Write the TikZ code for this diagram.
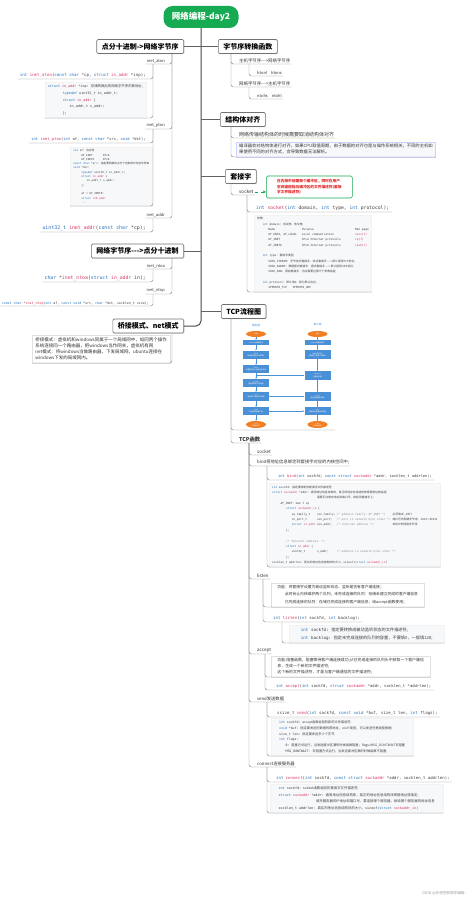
\documentclass[tikz,border=0pt]{standalone}
\usepackage{fontspec}
\setmainfont{Noto Sans CJK SC}[Ligatures=TeXOff]
\setmonofont{DejaVu Sans Mono}
\usetikzlibrary{positioning,shadows,arrows.meta,shapes.geometric}

\definecolor{mindgreen}{RGB}{22,170,82}
\definecolor{codebg}{RGB}{246,248,250}
\definecolor{kwblue}{RGB}{38,112,184}
\definecolor{fnred}{RGB}{214,58,100}
\definecolor{cmgray}{RGB}{140,140,140}
\definecolor{flowblue}{RGB}{74,144,214}
\definecolor{floworange}{RGB}{240,128,40}
\definecolor{notered}{RGB}{226,36,36}
\def\kw#1{\textcolor{kwblue}{#1}}
\def\fn#1{\textcolor{fnred}{#1}}
\def\cm#1{\textcolor{cmgray}{#1}}
\def\zh#1{{\rmfamily #1}}
\def\fsize#1#2{\fontsize{#1}{#2}\selectfont}

\tikzset{
  root/.style={fill=mindgreen, rounded corners=9pt, text=white, font=\bfseries\fsize{8.5}{9},
    minimum width=75pt, minimum height=22pt},
  topic/.style={draw=black!55, fill=white, rounded corners=1.2pt, line width=0.6pt,
    font=\bfseries\fsize{7}{8}, inner xsep=5pt, minimum height=14pt,
    drop shadow={opacity=0.3, shadow xshift=0.7pt, shadow yshift=-0.7pt}},
  trunkline/.style={draw=black!72, line width=1pt},
  branchline/.style={draw=black!62, line width=0.7pt},
  twig/.style={draw=black!45, line width=0.45pt, rounded corners=2.5pt},
  leaf/.style={inner sep=1pt, text=black!80, font=\fsize{4.3}{5}},
  codeline/.style={inner xsep=2pt, inner ysep=1pt, text=black!75},
  codebox/.style={fill=codebg, draw=black!5, align=left, inner xsep=3pt, inner ysep=2.5pt, text=black!75},
  textbox/.style={fill=white, draw=black!12, align=left, inner xsep=3pt, inner ysep=2.5pt, text=black!80,
    drop shadow={opacity=0.15, shadow xshift=0.6pt, shadow yshift=-0.6pt}},
  notebox/.style={draw=mindgreen, line width=0.6pt, rounded corners=1.5pt, fill=white, text=notered,
    font=\bfseries\fsize{3.7}{5.5}, align=left, minimum width=86pt, minimum height=22pt, inner xsep=4pt},
  flowbox/.style={fill=flowblue, text=white, font=\fsize{1.7}{2.1}, align=center, minimum width=26pt, inner sep=0.3pt},
  flowend/.style={ellipse, fill=floworange, text=white, font=\fsize{1.7}{2.1}, align=center,
    minimum width=20pt, inner sep=0.2pt},
  flowarrow/.style={draw=flowblue, line width=0.3pt, -{Stealth[length=1.4pt,width=1.3pt]}},
}

\begin{document}
\begin{tikzpicture}[x=1pt,y=-1pt]
  \fill[white] (0,0) rectangle (474,899);
  \useasboundingbox (0,0) rectangle (474,899);

  % root and main topics
  \node[root] (root) at (201,17) {网络编程-day2};
  \node[topic, anchor=east] (dot2net) at (184,46.5) {点分十进制->网络字节序};
  \node[topic, anchor=west] (conv) at (218,46.5) {字节序转换函数};
  \node[topic, anchor=west] (align) at (220,119.5) {结构体对齐};
  \node[topic, anchor=west] (sock) at (225,176.5) {套接字};
  \node[topic, anchor=east] (net2dot) at (184,251) {网络字节序--->点分十进制};
  \node[topic, anchor=west] (tcpflow) at (221,311.5) {TCP流程图};
  \node[topic, anchor=east] (bridge) at (184,326) {桥接模式、net模式};

  \draw[trunkline, rounded corners=5pt] (root.south) |- (bridge.east);
  \draw[branchline] (dot2net.east) -- (conv.west);
  \draw[branchline] (root.south |- align.west) -- (align.west);
  \draw[branchline] (root.south |- sock.west) -- (sock.west);
  \draw[branchline] (root.south |- net2dot.east) -- (net2dot.east);
  \draw[branchline] (root.south |- tcpflow.west) -- (tcpflow.west);

  % left: dotted decimal -> network order
  \node[leaf, anchor=south east, font=\fsize{4}{5}] (aton) at (166,64) {inet\_aton};
  \node[codeline, anchor=south east, font=\ttfamily\fsize{4.1}{5}] (atonsig) at (148,79)
    {\kw{int} \fn{inet\_aton}(\kw{const char} *cp, \kw{struct} \fn{in\_addr} *inp);};
  \node[codebox, anchor=south east, font=\ttfamily\fsize{3.4}{6.8}] (atonbox) at (146,118)
    {\kw{struct} \fn{in\_addr} *inp: \zh{存储转换后的网络字节序的首地址;}\\
     \hspace*{4.4em}\kw{typedef} uint32\_t in\_addr\_t;\\
     \hspace*{4.4em}\kw{struct} \fn{in\_addr} \{\\
     \hspace*{6.4em}in\_addr\_t s\_addr;\\
     \hspace*{4.4em}\};};
  \node[leaf, anchor=south east, font=\fsize{4}{5}] (pton) at (166,129) {inet\_pton};
  \node[codeline, anchor=south east, font=\ttfamily\fsize{3.8}{5}] (ptonsig) at (148,143)
    {\kw{int} \fn{inet\_pton}(\kw{int} af, \kw{const char} *src, \kw{void} *dst);};
  \node[codebox, anchor=south east, font=\ttfamily\fsize{2.7}{4.3}] (ptonbox) at (152.5,206)
    {\kw{int} af: \zh{协议族}\\
     \hspace*{3em}\makebox[8em][l]{AF\_INET}IPv4\\
     \hspace*{3em}\makebox[8em][l]{AF\_INET6}IPv6\\
     \kw{const char} *src: \zh{指定要转换的点分十进制的IP地址字符串}\\
     \kw{void} *dst:\\
     \hspace*{3em}\kw{typedef} uint32\_t in\_addr\_t;\\
     \hspace*{3em}\kw{struct} \fn{in\_addr} \{\\
     \hspace*{5em}in\_addr\_t s\_addr;\\
     \hspace*{3em}\};\\
     \mbox{}\\
     \hspace*{3em}af = AF\_INET6:\\
     \hspace*{3em}\kw{struct} \fn{in6\_addr}\\
     \hspace*{3em}...};
  \node[leaf, anchor=south east, font=\fsize{4}{5}] (addr) at (166,218) {inet\_addr};
  \node[codeline, anchor=south east, font=\ttfamily\fsize{4.9}{6}] (addrsig) at (148,232)
    {\kw{uint32\_t} \fn{inet\_addr}(\kw{const char} *cp);};

  \draw[twig] ([xshift=-12pt]dot2net.south east) |- (addr.south west);
  \foreach \ch in {aton,pton}
    \draw[twig] ([xshift=-12pt]dot2net.south east) |- (\ch.south west);

  % left: network order -> dotted decimal
  \node[leaf, anchor=south east, font=\fsize{4}{5}] (ntoa) at (166,269) {inet\_ntoa};
  \node[codeline, anchor=south east, font=\ttfamily\fsize{4.8}{6}] (ntoasig) at (148,282)
    {\kw{char} *\fn{inet\_ntoa}(\kw{struct} \fn{in\_addr} in);};
  \node[leaf, anchor=south east, font=\fsize{4}{5}] (ntop) at (166,294) {inet\_ntop};
  \node[codeline, anchor=south east, font=\ttfamily\fsize{3.3}{4}] (ntopsig) at (151,306)
    {\kw{const char} *\fn{inet\_ntop}(\kw{int} af, \kw{const void} *src, \kw{char} *dst, socklen\_t size);};
  \foreach \ch in {ntoa,ntop}
    \draw[twig] ([xshift=-12pt]net2dot.south east) |- (\ch.south west);

  \foreach \pa/\ch in {aton/atonsig,aton/atonbox,pton/ptonsig,pton/ptonbox,addr/addrsig,ntoa/ntoasig,ntop/ntopsig}
    \draw[twig] ([xshift=-13pt]\pa.south east) |- (\ch.south west);

  % left: bridge / nat
  \node[textbox, anchor=south east, font=\fsize{4.5}{6}] (bridgetxt) at (170,363)
    {桥接模式：虚拟机和windows同属于一个局域网中，如同两个操作\\
     系统连接同一个路由器，把windows当作网关，虚拟机有网\\
     net模式：将windows当做路由器，下发局域网，ubuntu连接在\\
     windows下发的局域网内。};
  \draw[twig] ([xshift=-12pt]bridge.south east) |- (bridgetxt.south west);

  % right: byte order functions
  \node[leaf, anchor=south west, font=\fsize{4.4}{5}] (h2n) at (238,64) {主机字节序--->网络字节序};
  \node[leaf, anchor=south west, font=\fsize{4}{5}] (htonl) at (256,76) {htonl\quad htons};
  \node[leaf, anchor=south west, font=\fsize{4.4}{5}] (n2h) at (238,87) {网络字节序--->主机字节序};
  \node[leaf, anchor=south west, font=\fsize{4}{5}] (ntohs) at (256,99) {ntohs\quad ntohl};
  \foreach \ch in {h2n,n2h}
    \draw[twig] ([xshift=13pt]conv.south west) |- (\ch.south east);
  \draw[twig] ([xshift=11pt]h2n.south west) |- (htonl.south east);
  \draw[twig] ([xshift=11pt]n2h.south west) |- (ntohs.south east);

  % right: struct alignment
  \node[leaf, anchor=south west, font=\fsize{5}{6}] (alignleaf) at (238,138) {网络传输结构体的时候需要取消结构体对齐};
  \node[textbox, anchor=south west, draw=blue!18, drop shadow={opacity=0}, fill=codebg, font=\fsize{4.3}{6},
    minimum width=194pt] (aligntxt) at (236,157)
    {编译器会对结构体进行对齐，如果CPU取值周期，由于数据的对齐也是与操作系统相关，不同的主机如\\
     果使用不同的对齐方式，会导致数据无法解析。};
  \foreach \ch in {alignleaf,aligntxt}
    \draw[twig] ([xshift=11pt]align.south west) |- (\ch.south east);

  % right: socket
  \node[leaf, anchor=south west, font=\fsize{4.7}{5}] (sockleaf) at (238,195) {socket};
  \node[notebox, anchor=west] (note) at (266,187)
    {在内核中创建两个缓冲区，同时在用户\\
     空间返回指向缓冲区的文件描述符(套接\\
     字文件描述符)};
  \draw[draw=mindgreen, dashed, line width=0.5pt, -{Triangle[length=2.6pt,width=2.6pt]}]
    (sockleaf.east) -- (sockleaf.east -| note.west);
  \node[codeline, anchor=south west, inner xsep=3pt, font=\ttfamily\fsize{4.7}{6}] (socksig) at (253,212)
    {\kw{int} \fn{socket}(\kw{int} domain, \kw{int} type, \kw{int} protocol);};
  \node[codebox, anchor=south west, font=\ttfamily\fsize{2.8}{5.3}, minimum width=116pt] (sockbox) at (254,292)
    {\zh{参数:}\\
     \hspace*{2em}\kw{int} domain: \zh{协议族，地址族;}\\
     \hspace*{4em}\makebox[12em][l]{Name}\makebox[19em][l]{Purpose}Man page\\
     \hspace*{4em}\makebox[12em][l]{AF\_UNIX, AF\_LOCAL}\makebox[19em][l]{Local communication}\fn{unix(7)}\\
     \hspace*{4em}\makebox[12em][l]{AF\_INET}\makebox[19em][l]{IPv4 Internet protocols}\fn{ip(7)}\\
     \hspace*{4em}\makebox[12em][l]{AF\_INET6}\makebox[19em][l]{IPv6 Internet protocols}\fn{ipv6(7)}\\
     \mbox{}\\
     \hspace*{2em}\kw{int} type: \zh{套接字类型;}\\
     \hspace*{4em}SOCK\_STREAM: \zh{字节流式套接字，流式套接字 ---> 默认使用TCP协议;}\\
     \hspace*{4em}SOCK\_DGRAM: \zh{数据报式套接字，报式套接字 ---> 默认使用UDP协议;}\\
     \hspace*{4em}SOCK\_RAW: \zh{原始套接字，协议需要在第三个参数指定;}\\
     \mbox{}\\
     \hspace*{2em}\kw{int} protocol: \zh{默认填0，即为默认协议;}\\
     \hspace*{4em}IPPROTO\_TCP\hspace*{2em}IPPROTO\_UDP};
  \draw[twig] ([xshift=6pt]sock.south west) |- (sockleaf.south east);
  \foreach \ch in {socksig,sockbox}
    \draw[twig] ([xshift=9pt]sockleaf.south west) |- (\ch.south east);

  % right: tcp flow chart
  \node[font=\fsize{2.6}{3}, text=flowblue] (srvlab) at (256,326) {服务器};
  \node[font=\fsize{2.6}{3}, text=flowblue] (clilab) at (317.5,324.5) {客户端};
  \node[flowend, minimum height=6pt] (s0) at (256,334) {开始};
  \node[flowbox, minimum height=5pt] (s1) at (256,342.5) {socket 创建套接字};
  \node[flowbox, minimum height=8pt] (s2) at (256,354.5) {bind\\绑定服务器的IP和端口};
  \node[flowbox, minimum height=8pt] (s3) at (256,369) {listen\\设置套接字为被动监听状态};
  \node[flowbox, minimum height=8pt] (s4) at (256,383) {accept\\阻塞等待客户端连接};
  \node[flowbox, minimum height=9pt] (s5) at (256,396.5) {recv\\接收客户端发送的数据};
  \node[flowbox, minimum height=8pt] (s6) at (256,411) {send\\发送数据给客户端};
  \node[flowend, minimum height=7pt] (s7) at (256,424.5) {close\\关闭套接字};
  \node[flowend, minimum height=6pt] (c0) at (317.5,334) {开始};
  \node[flowbox, minimum height=5pt] (c1) at (317.5,342.5) {socket 创建套接字};
  \node[flowbox, minimum height=9pt] (c2) at (317.5,354.5) {bind(非必须)\\绑定客户端的IP和端口};
  \node[flowbox, minimum height=9pt] (c3) at (317.5,375.5) {connect\\连接服务器};
  \node[flowbox, minimum height=9pt] (c4) at (317.5,396.5) {send\\发送数据给服务器};
  \node[flowbox, minimum height=8pt] (c5) at (317.5,411) {recv\\接收服务器发送的数据};
  \node[flowend, minimum height=7pt] (c6) at (317.5,424.5) {close\\关闭套接字};
  \foreach \pa/\ch in {s0/s1,s1/s2,s2/s3,s3/s4,s4/s5,s5/s6,s6/s7,c0/c1,c1/c2,c2/c3,c3/c4,c4/c5,c5/c6}
    \draw[flowarrow] (\pa) -- (\ch);
  \draw[flowarrow] (c3.west) -- (c3.west -| s3.south);
  \draw[flowarrow] (c4.west) -- (s5.east);
  \draw[flowarrow] (s6.east) -- (c5.west);
  \coordinate (flowend) at (335,430);

  % right: tcp functions
  \node[leaf, anchor=south west, font=\bfseries\fsize{5.3}{6}] (tcpfunc) at (238,443) {TCP函数};
  \draw[twig] ([xshift=10pt]tcpflow.south west) |- (flowend);
  \draw[twig] ([xshift=10pt]tcpflow.south west) |- (tcpfunc.south east);

  \node[leaf, anchor=south west, font=\fsize{4.5}{5}] (fsock) at (256,455) {socket};
  \node[leaf, anchor=south west] (fbind) at (256,466) {bind将地址信息绑定到套接字对应的内核空间中;};
  \node[codeline, anchor=south west, font=\ttfamily\fsize{3.7}{5}] (bindsig) at (276,480)
    {\kw{int} \fn{bind}(\kw{int} sockfd, \kw{const struct} \fn{sockaddr} *addr, socklen\_t addrlen);};
  \node[codebox, anchor=south west, font=\ttfamily\fsize{2.8}{5.4}, minimum width=171pt] (bindbox) at (269,567)
    {\kw{int} sockfd: \zh{指定要绑定的套接字文件描述符;}\\
     \kw{struct} \fn{sockaddr} *addr: \zh{通用地址信息结构体，真正的地址信息结构体根据地址族指定;}\\
     \hspace*{16em}\zh{需要手动填充地址和端口号，绑定到套接字上;}\\
     \hspace*{3em}AF\_INET: man 7 ip\\
     \hspace*{5em}\kw{struct} \fn{sockaddr\_in} \{\\
     \hspace*{7em}\makebox[9em][l]{sa\_family\_t}\makebox[7em][l]{sin\_family;}\makebox[20em][l]{\cm{/* address family: AF\_INET */}}\zh{必须填AF\_INET}\\
     \hspace*{7em}\makebox[9em][l]{in\_port\_t}\makebox[7em][l]{sin\_port;}\makebox[20em][l]{\cm{/* port in network byte order */}}\zh{端口号的网络字节序，1024～49151}\\
     \hspace*{7em}\makebox[9em][l]{\kw{struct} \fn{in\_addr}}\makebox[7em][l]{sin\_addr;}\makebox[20em][l]{\cm{/* internet address */}}\zh{本机IP的网络字节序}\\
     \hspace*{5em}\};\\
     \mbox{}\\
     \hspace*{5em}\cm{/* Internet address. */}\\
     \hspace*{5em}\kw{struct} \fn{in\_addr} \{\\
     \hspace*{7em}\makebox[9em][l]{uint32\_t}\makebox[7em][l]{s\_addr;}\cm{/* address in network byte order */}\\
     \hspace*{5em}\};\\
     socklen\_t addrlen: \zh{真实的地址信息结构体的大小，}sizeof(\kw{struct} \fn{sockaddr\_in})};

  \node[leaf, anchor=south west, font=\fsize{4.5}{5}] (flisten) at (256,579) {listen};
  \node[textbox, anchor=south west, font=\fsize{3.8}{7.5}, minimum width=153pt] (listentxt) at (271,607)
    {功能：将套接字设置为被动监听状态，监听是否有客户端连接；\\
     \hspace*{2em}此时会让内核维护两个队列，未完成连接的队列：存储未建立完成的客户端信息\\
     \hspace*{2em}已完成连接的队列：存储已完成连接的客户端信息，给accept函数使用；};
  \node[codeline, anchor=south west, font=\ttfamily\fsize{4}{5}] (listensig) at (271,622)
    {\kw{int} \fn{listen}(\kw{int} sockfd, \kw{int} backlog);};
  \node[codebox, anchor=south west, font=\ttfamily\fsize{4.2}{7.8}, minimum width=155pt] (listenbox) at (289,643)
    {\kw{int} sockfd: \zh{指定要转换成被动监听状态的文件描述符;}\\
     \kw{int} backlog: \zh{指定未完成连接的队列的容量，不要填0，一般填128;}};

  \node[leaf, anchor=south west, font=\fsize{4.5}{5}] (faccept) at (256,654) {accept};
  \node[textbox, anchor=south west, font=\fsize{3.9}{6}, minimum width=159pt] (accepttxt) at (271,677)
    {功能:阻塞函数，阻塞等待客户端连接成功;从已完成连接的队列头中获取一个客户端信\\
     息，生成一个新的文件描述符;\\
     这个新的文件描述符，才是与客户端通信的文件描述符;};
  \node[codeline, anchor=south west, font=\ttfamily\fsize{3.9}{5}] (acceptsig) at (274,690)
    {\kw{int} \fn{accept}(\kw{int} sockfd, \kw{struct} \fn{sockaddr} *addr, socklen\_t *addrlen);};

  \node[leaf, anchor=south west] (fsend) at (256,702) {send发送数据};
  \node[codeline, anchor=south west, font=\ttfamily\fsize{4.1}{5}] (sendsig) at (275,717)
    {ssize\_t \fn{send}(\kw{int} sockfd, \kw{const void} *buf, size\_t len, \kw{int} flags);};
  \node[codebox, anchor=south west, font=\ttfamily\fsize{3.2}{5.8}, minimum width=142pt] (sendbox) at (271,756)
    {\kw{int} sockfd: \zh{accept函数返回的新的文件描述符;}\\
     \kw{void} *buf: \zh{指定要发送的数据的首地址，void*类型，可以发送任意类型数据;}\\
     size\_t len: \zh{指定要发送多少个字节;}\\
     \kw{int} flags:\\
     \hspace*{2em}0: \zh{阻塞方式运行，当发送缓冲区满的时候函数阻塞；flags=MSG\_DONTWAIT非阻塞}\\
     \hspace*{2em}MSG\_DONTWAIT: \zh{非阻塞方式运行，当发送缓冲区满的时候函数不阻塞;}};

  \node[leaf, anchor=south west] (fconn) at (256,767) {connect连接服务器};
  \node[codeline, anchor=south west, font=\ttfamily\fsize{4}{5}] (connsig) at (274,782)
    {\kw{int} \fn{connect}(\kw{int} sockfd, \kw{const struct} \fn{sockaddr} *addr, socklen\_t addrlen);};
  \node[codebox, anchor=south west, font=\ttfamily\fsize{3.4}{6.6}, minimum width=173pt] (connbox) at (270,813)
    {\kw{int} sockfd: \zh{socket函数返回的套接字文件描述符;}\\
     \kw{struct} \fn{sockaddr} *addr: \zh{通用地址信息结构体，真正的地址信息结构体根据地址族指定;}\\
     \hspace*{11em}\zh{填充服务器的IP地址和端口号，要连接哪个服务器，就填哪个服务器的地址信息}\\
     socklen\_t addrlen: \zh{真实的地址信息结构体的大小，}sizeof(\kw{struct} \fn{sockaddr\_in})};

  \foreach \ch in {fsock,fbind,flisten,faccept,fsend,fconn}
    \draw[twig] ([xshift=11pt]tcpfunc.south west) |- (\ch.south east);
  \foreach \ch in {bindsig,bindbox}
    \draw[twig] ([xshift=11pt]fbind.south west) |- (\ch.south east);
  \foreach \ch in {listentxt,listensig}
    \draw[twig] ([xshift=7pt]flisten.south west) |- (\ch.south east);
  \draw[twig] ([xshift=11pt]listensig.south west) |- (listenbox.south east);
  \foreach \ch in {accepttxt,acceptsig}
    \draw[twig] ([xshift=9pt]faccept.south west) |- (\ch.south east);
  \foreach \ch in {sendsig,sendbox}
    \draw[twig] ([xshift=11pt]fsend.south west) |- (\ch.south east);
  \foreach \ch in {connsig,connbox}
    \draw[twig] ([xshift=11pt]fconn.south west) |- (\ch.south east);

  % credit
  \node[anchor=east, font=\fsize{3.6}{4}, text=black!40] (credit) at (470,893) {CSDN @孙悟空很想学编程\textasciitilde};
\end{tikzpicture}
\end{document}
